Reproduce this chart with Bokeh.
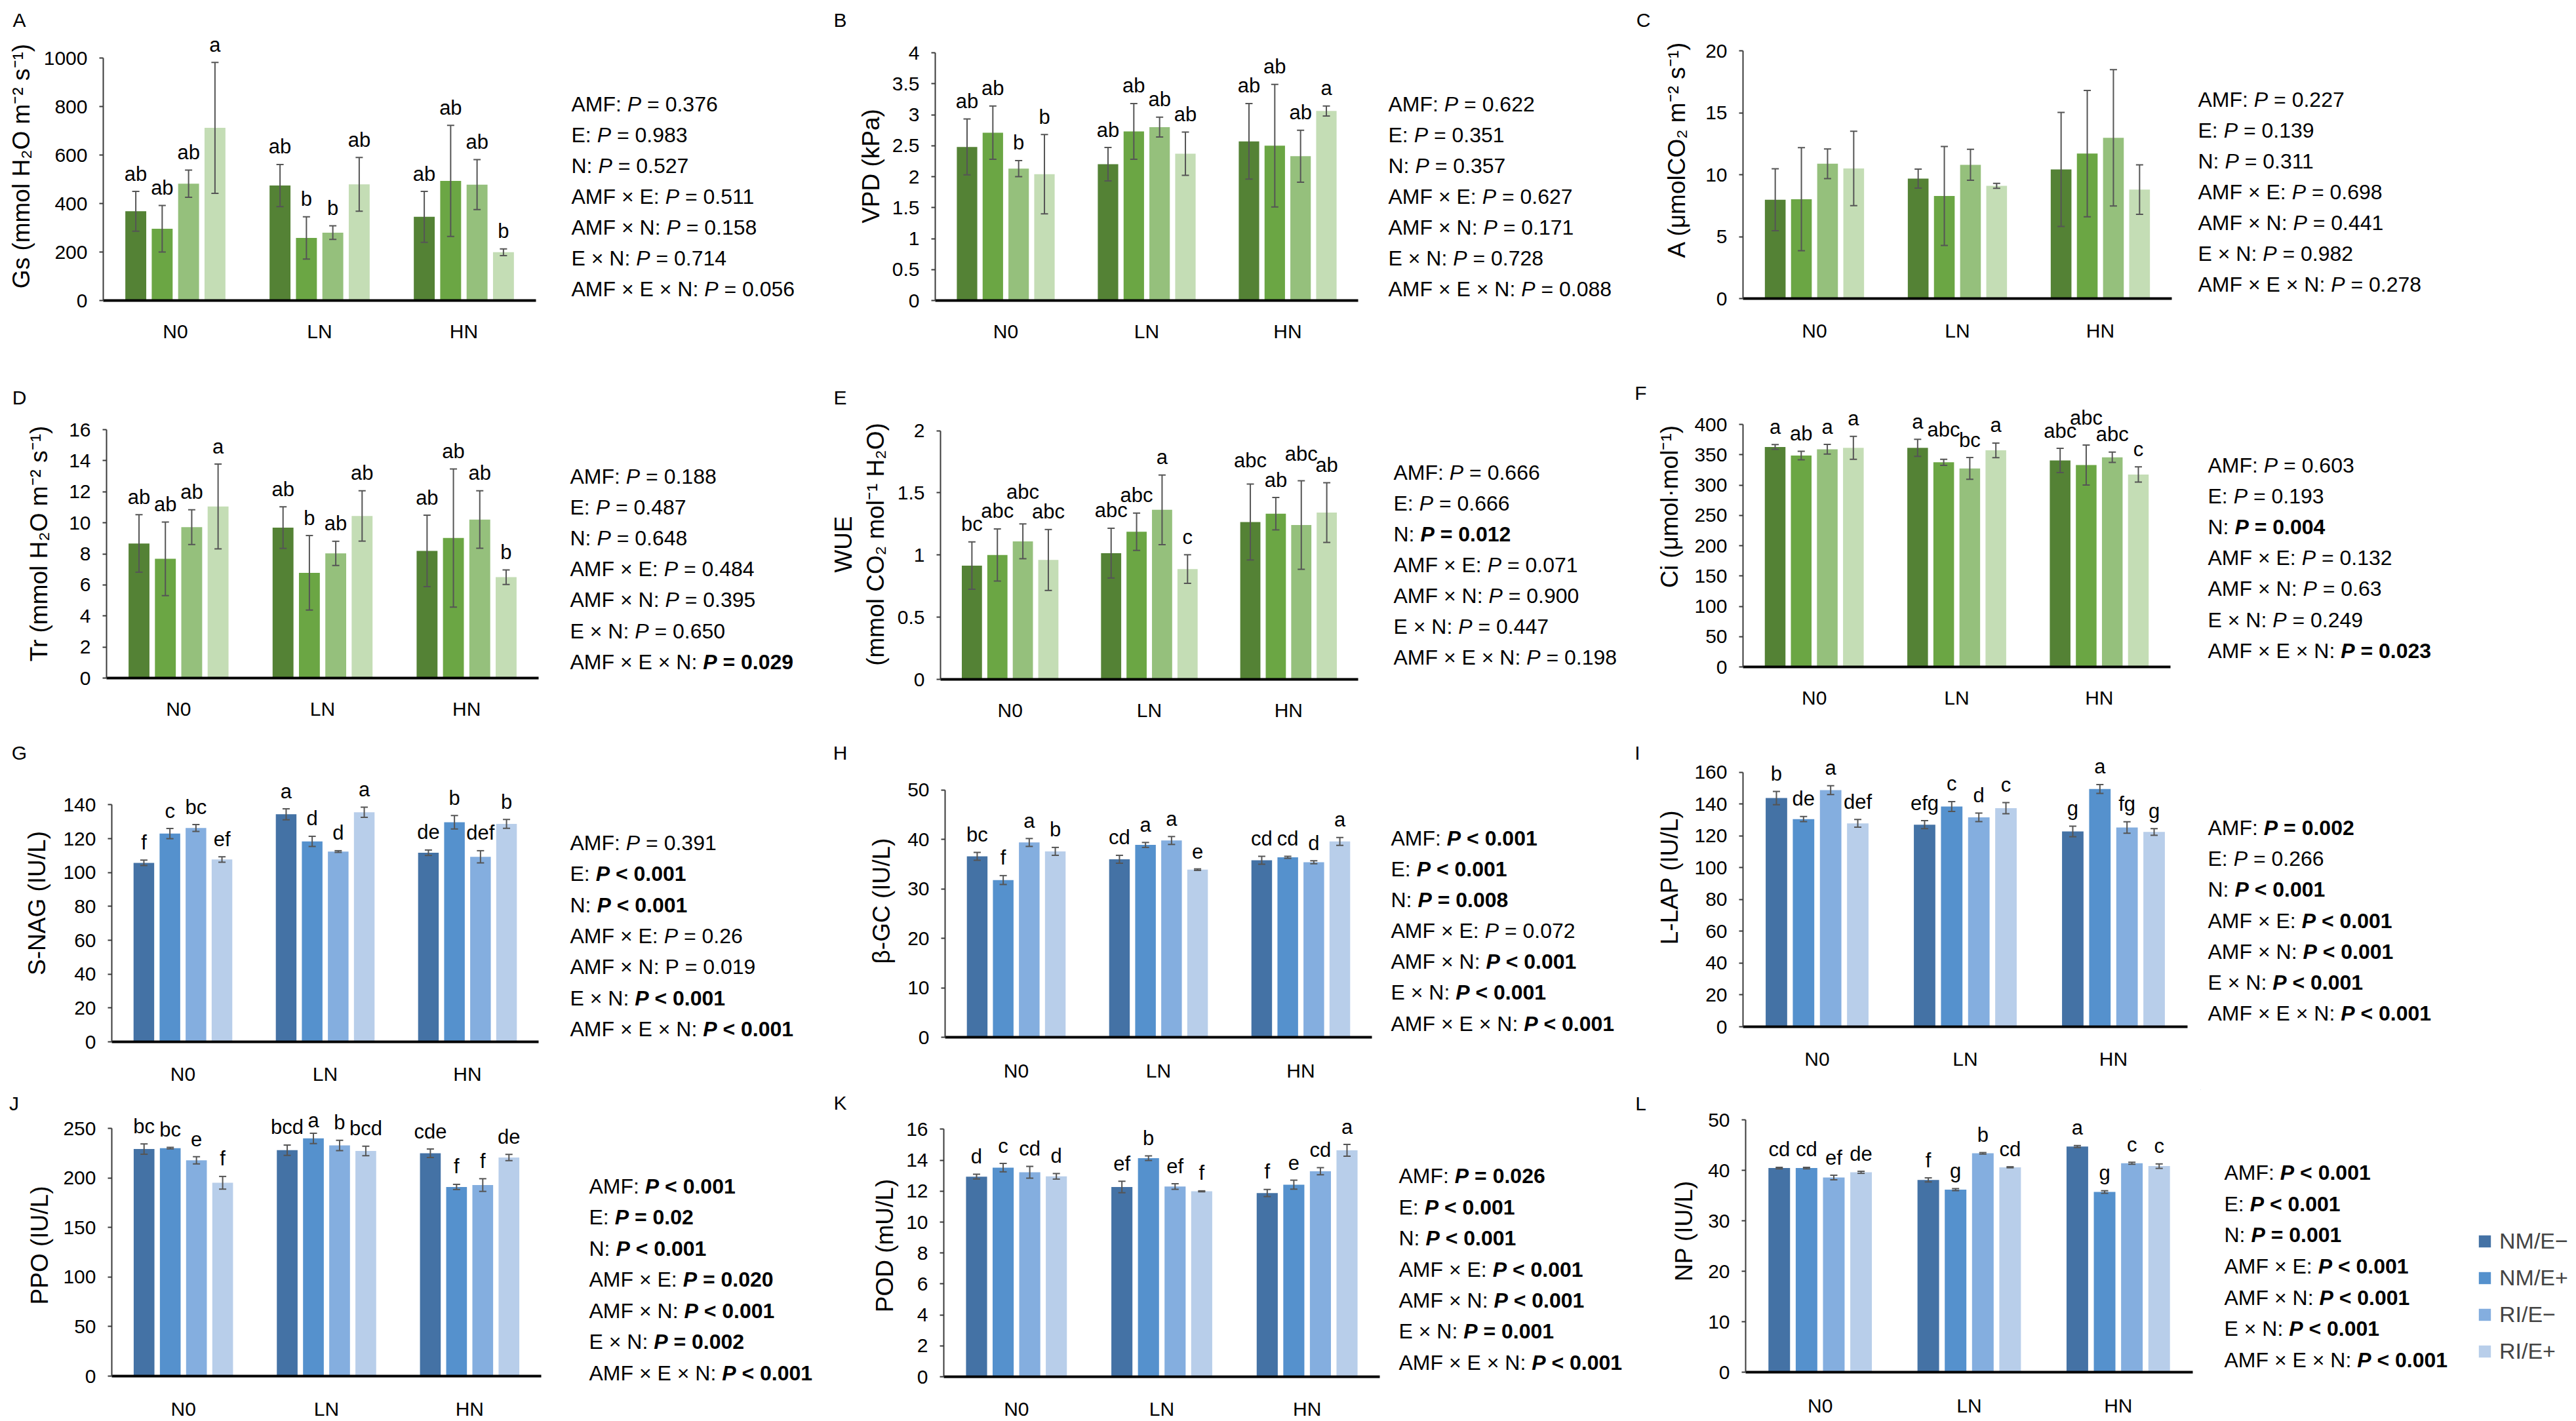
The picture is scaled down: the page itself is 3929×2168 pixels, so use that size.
from bokeh.plotting import figure
from bokeh.layouts import row, column
from bokeh.models import (ColumnDataSource, FactorRange, Range1d, FixedTicker,
                          NumeralTickFormatter, Legend, LegendItem)
from bokeh.transform import dodge
from bokeh.core.properties import value
from bokeh.embed import file_html
from bokeh.resources import INLINE

# ---------------- data ----------------
groups = ["N0", "LN", "HN"]
series = ["NM/E\u2212", "NM/E+", "RI/E\u2212", "RI/E+"]
effects = ["AMF", "E", "N", "AMF \u00d7 E", "AMF \u00d7 N", "E \u00d7 N", "AMF \u00d7 E \u00d7 N"]

# A  Gs
gs_mean = [[368, 296, 482, 712], [474, 258, 280, 479], [345, 493, 478, 199]]
gs_err = [[82, 96, 56, 270], [87, 87, 28, 111], [105, 229, 103, 14]]
gs_letters = [["ab", "ab", "ab", "a"], ["ab", "b", "b", "ab"], ["ab", "ab", "ab", "b"]]
gs_ticks = [0, 200, 400, 600, 800, 1000]
gs_p = ["= 0.376", "= 0.983", "= 0.527", "= 0.511", "= 0.158", "= 0.714", "= 0.056"]
gs_sig = ["n", "n", "n", "n", "n", "n", "n"]

# B  VPD
vpd_mean = [[2.48, 2.71, 2.13, 2.04], [2.20, 2.73, 2.80, 2.37], [2.57, 2.50, 2.33, 3.06]]
vpd_err = [[0.45, 0.43, 0.13, 0.64], [0.27, 0.45, 0.16, 0.35], [0.61, 0.99, 0.42, 0.08]]
vpd_letters = [["ab", "ab", "b", "b"], ["ab", "ab", "ab", "ab"], ["ab", "ab", "ab", "a"]]
vpd_ticks = [0, 0.5, 1, 1.5, 2, 2.5, 3, 3.5, 4]
vpd_p = ["= 0.622", "= 0.351", "= 0.357", "= 0.627", "= 0.171", "= 0.728", "= 0.088"]
vpd_sig = ["n", "n", "n", "n", "n", "n", "n"]

# C  A
a_mean = [[7.98, 8.02, 10.88, 10.5], [9.68, 8.28, 10.8, 9.1], [10.42, 11.7, 12.98, 8.8]]
a_err = [[2.5, 4.16, 1.2, 3.0], [0.77, 4.0, 1.25, 0.2], [4.6, 5.1, 5.5, 2.0]]
a_letters = None
a_ticks = [0, 5, 10, 15, 20]
a_p = ["= 0.227", "= 0.139", "= 0.311", "= 0.698", "= 0.441", "= 0.982", "= 0.278"]
a_sig = ["n", "n", "n", "n", "n", "n", "n"]

# D  Tr
tr_mean = [[8.67, 7.68, 9.72, 11.05], [9.69, 6.78, 8.03, 10.44], [8.19, 9.02, 10.21, 6.5]]
tr_err = [[1.85, 2.37, 1.12, 2.73], [1.34, 2.4, 0.78, 1.62], [2.3, 4.45, 1.85, 0.47]]
tr_letters = [["ab", "ab", "ab", "a"], ["ab", "b", "ab", "ab"], ["ab", "ab", "ab", "b"]]
tr_ticks = [0, 2, 4, 6, 8, 10, 12, 14, 16]
tr_p = ["= 0.188", "= 0.487", "= 0.648", "= 0.484", "= 0.395", "= 0.650", "= 0.029"]
tr_sig = ["n", "n", "n", "n", "n", "n", "b"]

# E  WUE
wue_mean = [[0.915, 1.0, 1.11, 0.96], [1.015, 1.187, 1.363, 0.887], [1.265, 1.332, 1.241, 1.341]]
wue_err = [[0.19, 0.21, 0.14, 0.245], [0.2, 0.15, 0.28, 0.115], [0.305, 0.13, 0.356, 0.24]]
wue_letters = [["bc", "abc", "abc", "abc"], ["abc", "abc", "a", "c"], ["abc", "ab", "abc", "ab"]]
wue_ticks = [0, 0.5, 1, 1.5, 2]
wue_p = ["= 0.666", "= 0.666", "= 0.012", "= 0.071", "= 0.900", "= 0.447", "= 0.198"]
wue_sig = ["n", "n", "b", "n", "n", "n", "n"]

# F  Ci
ci_mean = [[362.8, 348.7, 359.0, 361.3], [361.3, 337.5, 327.4, 357.2], [340.5, 333.0, 345.7, 317.4]]
ci_err = [[4, 7, 8, 19], [14, 5, 18, 12], [20, 33, 8.5, 12.6]]
ci_letters = [["a", "ab", "a", "a"], ["a", "abc", "bc", "a"], ["abc", "abc", "abc", "c"]]
ci_ticks = [0, 50, 100, 150, 200, 250, 300, 350, 400]
ci_p = ["= 0.603", "= 0.193", "= 0.004", "= 0.132", "= 0.63", "= 0.249", "= 0.023"]
ci_sig = ["n", "n", "b", "n", "n", "n", "b"]

# G  S-NAG
nag_mean = [[105.7, 123.0, 126.3, 107.7], [134.4, 118.4, 112.4, 135.6], [111.7, 129.7, 109.3, 128.7]]
nag_err = [[1.6, 3.0, 2.0, 1.6], [3.2, 3.0, 0.5, 3.0], [1.6, 4.0, 3.6, 2.6]]
nag_letters = [["f", "c", "bc", "ef"], ["a", "d", "d", "a"], ["de", "b", "def", "b"]]
nag_ticks = [0, 20, 40, 60, 80, 100, 120, 140]
nag_p = ["= 0.391", "< 0.001", "< 0.001", "= 0.26", "= 0.019", "< 0.001", "< 0.001"]
nag_sig = ["n", "b", "b", "n", "u", "b", "b"]

# H  beta-GC
gc_mean = [[36.6, 31.8, 39.4, 37.6], [36.0, 38.9, 39.8, 33.9], [35.8, 36.4, 35.4, 39.6]]
gc_err = [[0.8, 0.9, 0.8, 0.8], [0.8, 0.5, 0.8, 0.15], [0.8, 0.2, 0.3, 0.8]]
gc_letters = [["bc", "f", "a", "b"], ["cd", "a", "a", "e"], ["cd", "cd", "d", "a"]]
gc_ticks = [0, 10, 20, 30, 40, 50]
gc_p = ["< 0.001", "< 0.001", "= 0.008", "= 0.072", "< 0.001", "< 0.001", "< 0.001"]
gc_sig = ["b", "b", "b", "n", "b", "b", "b"]

# I  L-LAP
lap_mean = [[143.7, 130.5, 148.7, 127.8], [127.0, 138.4, 131.6, 137.3], [122.7, 149.4, 125.2, 122.4]]
lap_err = [[4.2, 1.6, 2.8, 2.4], [2.5, 3.1, 2.7, 3.5], [3.3, 2.8, 3.6, 2.1]]
lap_letters = [["b", "de", "a", "def"], ["efg", "c", "d", "c"], ["g", "a", "fg", "g"]]
lap_ticks = [0, 20, 40, 60, 80, 100, 120, 140, 160]
lap_p = ["= 0.002", "= 0.266", "< 0.001", "< 0.001", "< 0.001", "< 0.001", "< 0.001"]
lap_sig = ["b", "n", "b", "b", "b", "b", "b"]

# J  PPO
ppo_mean = [[229.3, 230.2, 217.9, 195.2], [228.1, 240.0, 232.9, 227.4], [225.0, 191.0, 192.9, 220.7]]
ppo_err = [[5.2, 0.8, 3.6, 6.4], [5.2, 5.2, 5.2, 4.8], [4.3, 2.6, 6.4, 3.1]]
ppo_letters = [["bc", "bc", "e", "f"], ["bcd", "a", "b", "bcd"], ["cde", "f", "f", "de"]]
ppo_ticks = [0, 50, 100, 150, 200, 250]
ppo_p = ["< 0.001", "= 0.02", "< 0.001", "= 0.020", "< 0.001", "= 0.002", "< 0.001"]
ppo_sig = ["b", "b", "b", "b", "b", "b", "b"]

# K  POD
pod_mean = [[12.94, 13.52, 13.22, 12.96], [12.27, 14.13, 12.30, 11.99], [11.88, 12.42, 13.29, 14.64]]
pod_err = [[0.15, 0.27, 0.38, 0.18], [0.37, 0.15, 0.18, 0.03], [0.23, 0.29, 0.23, 0.38]]
pod_letters = [["d", "c", "cd", "d"], ["ef", "b", "ef", "f"], ["f", "e", "cd", "a"]]
pod_ticks = [0, 2, 4, 6, 8, 10, 12, 14, 16]
pod_p = ["= 0.026", "< 0.001", "< 0.001", "< 0.001", "< 0.001", "= 0.001", "< 0.001"]
pod_sig = ["b", "b", "b", "b", "b", "b", "b"]

# L  NP
np_mean = [[40.45, 40.45, 38.57, 39.6], [38.1, 36.17, 43.37, 40.6], [44.7, 35.7, 41.4, 40.83]]
np_err = [[0.15, 0.15, 0.45, 0.2], [0.4, 0.2, 0.15, 0.1], [0.2, 0.25, 0.2, 0.45]]
np_letters = [["cd", "cd", "ef", "de"], ["f", "g", "b", "cd"], ["a", "g", "c", "c"]]
np_ticks = [0, 10, 20, 30, 40, 50]
np_p = ["< 0.001", "< 0.001", "= 0.001", "< 0.001", "< 0.001", "< 0.001", "< 0.001"]
np_sig = ["b", "b", "b", "b", "b", "b", "b"]

PANELS = [
    dict(key="A", ylabel="Gs (mmol H\u2082O m\u207b\u00b2 s\u207b\u00b9)", mean=gs_mean, err=gs_err, letters=gs_letters, ticks=gs_ticks, p=gs_p, sig=gs_sig, pal="g"),
    dict(key="B", ylabel="VPD (kPa)", mean=vpd_mean, err=vpd_err, letters=vpd_letters, ticks=vpd_ticks, p=vpd_p, sig=vpd_sig, pal="g"),
    dict(key="C", ylabel="A (\u03bcmolCO\u2082 m\u207b\u00b2 s\u207b\u00b9)", mean=a_mean, err=a_err, letters=a_letters, ticks=a_ticks, p=a_p, sig=a_sig, pal="g"),
    dict(key="D", ylabel="Tr (mmol H\u2082O m\u207b\u00b2 s\u207b\u00b9)", mean=tr_mean, err=tr_err, letters=tr_letters, ticks=tr_ticks, p=tr_p, sig=tr_sig, pal="g"),
    dict(key="E", ylabel="WUE\n(mmol CO\u2082 mol\u207b\u00b9 H\u2082O)", mean=wue_mean, err=wue_err, letters=wue_letters, ticks=wue_ticks, p=wue_p, sig=wue_sig, pal="g"),
    dict(key="F", ylabel="Ci (\u03bcmol\u00b7mol\u207b\u00b9)", mean=ci_mean, err=ci_err, letters=ci_letters, ticks=ci_ticks, p=ci_p, sig=ci_sig, pal="g"),
    dict(key="G", ylabel="S-NAG (IU/L)", mean=nag_mean, err=nag_err, letters=nag_letters, ticks=nag_ticks, p=nag_p, sig=nag_sig, pal="b"),
    dict(key="H", ylabel="\u03b2-GC (IU/L)", mean=gc_mean, err=gc_err, letters=gc_letters, ticks=gc_ticks, p=gc_p, sig=gc_sig, pal="b"),
    dict(key="I", ylabel="L-LAP (IU/L)", mean=lap_mean, err=lap_err, letters=lap_letters, ticks=lap_ticks, p=lap_p, sig=lap_sig, pal="b"),
    dict(key="J", ylabel="PPO (IU/L)", mean=ppo_mean, err=ppo_err, letters=ppo_letters, ticks=ppo_ticks, p=ppo_p, sig=ppo_sig, pal="b"),
    dict(key="K", ylabel="POD (mU/L)", mean=pod_mean, err=pod_err, letters=pod_letters, ticks=pod_ticks, p=pod_p, sig=pod_sig, pal="b"),
    dict(key="L", ylabel="NP (IU/L)", mean=np_mean, err=np_err, letters=np_letters, ticks=np_ticks, p=np_p, sig=np_sig, pal="b"),
]

# ---------------- style / geometry ----------------
FONT = "Liberation Sans"
GREENS = ["#548235", "#6BA644", "#95C07C", "#C4DDB5"]
BLUES = ["#4472A5", "#5591CD", "#84AEDF", "#B8CEEA"]
ERRC = "#555555"
OFFS = [-0.2745, -0.0915, 0.0915, 0.2745]
BAR_W = 0.145

col_x = [0, 1262, 2518]
col_w = [1262, 1256, 1411]
row_y = [0, 528, 1110, 1662]
row_h = [528, 582, 552, 506]
STRIP = [48, 96, 56, 38]      # letter strip above columns 1-2 (column 3 has none)
RPAD = 12

GEOM = {
    "A": dict(col=0, row=0, ax=157, xe=817, atop=88, base=458, tx=871, ty=158.5, tp=47, yl=33, lx=29, ly=30, xo=41),
    "B": dict(col=1, row=0, ax=1426, xe=2071, atop=80, base=458, tx=2117, ty=158.5, tp=47, yl=1329, lx=1281, ly=30, xo=41),
    "C": dict(col=2, row=0, ax=2658, xe=3312, atop=77, base=455, tx=3352, ty=151, tp=47, yl=2558, lx=2506, ly=30, xo=42),
    "D": dict(col=0, row=1, ax=162, xe=821, atop=655, base=1034, tx=869, ty=726, tp=47.2, yl=60, lx=29, ly=606, xo=41),
    "E": dict(col=1, row=1, ax=1431, xe=2071, atop=656, base=1035.5, tx=2125, ty=720, tp=47, yl=1311, lx=1281, ly=606, xo=41, nlines=2),
    "F": dict(col=2, row=1, ax=2658, xe=3310, atop=647, base=1017, tx=3367, ty=709, tp=47.2, yl=2548, lx=2502, ly=599, xo=41),
    "G": dict(col=0, row=2, ax=170, xe=821, atop=1227, base=1588.6, tx=869, ty=1285.5, tp=47.35, yl=58, lx=29, ly=1148, xo=42),
    "H": dict(col=1, row=2, ax=1441, xe=2092, atop=1204.6, base=1581.7, tx=2121, ty=1278.7, tp=47.05, yl=1345, lx=1281, ly=1148, xo=44),
    "I": dict(col=2, row=2, ax=2658, xe=3336, atop=1177, base=1565.5, tx=3367, ty=1262.5, tp=47.2, yl=2548, lx=2497, ly=1148, xo=42),
    "J": dict(col=0, row=3, ax=170, xe=825, atop=1721, base=2101.6, tx=898, ty=1809, tp=47.5, yl=62, lx=21, ly=1683, xo=43.5),
    "K": dict(col=1, row=3, ax=1439, xe=2104, atop=1722.4, base=2100.9, tx=2133, ty=1793.8, tp=47.4, yl=1350, lx=1281, ly=1681.5, xo=42),
    "L": dict(col=2, row=3, ax=2662, xe=3344, atop=1707.6, base=2092.6, tx=3392, ty=1788.3, tp=47.7, yl=2569, lx=2502, ly=1683, xo=45),
}
LIFT = {
    "E": [[0, 0, 22, 0], [0, 0, 0, 0], [9, 0, 14, 0]],
    "F": [[0, 0, 0, 0], [0, 18, 0, 0], [0, 14, 0, 0]],
    "J": [[0, 0, 0, 0], [0, -8, 0, 0], [0, 0, 0, 0]],
}
LEG = dict(x=3778, bottom=2081)

REG = {" ": 278, ":": 278, "=": 584, "<": 584, ".": 278, "\u00d7": 584,
       "A": 667, "M": 833, "F": 611, "E": 667, "N": 722, "P": 667}
BLD = {" ": 278, ":": 333, "=": 584, "<": 584, ".": 278, "\u00d7": 584,
       "A": 722, "M": 833, "F": 611, "E": 667, "N": 722, "P": 667}


def tw(s, size, bold=False):
    t = BLD if bold else REG
    return sum(t.get(ch, 556) for ch in s) * size / 1000.0


STAT_SIZE = 32
TICK_SIZE = 30
YLAB_SIZE = 37


def no_align(f):
    try:
        f.frame_align = False
    except Exception:
        pass
    return f


def blank_fig(w, h):
    f = figure(width=int(w), height=int(h), x_range=Range1d(0, w), y_range=Range1d(h, 0),
               x_axis_type=None, y_axis_type=None, output_backend="svg",
               toolbar_location=None, min_border=0)
    f.outline_line_color = None
    f.background_fill_color = "white"
    f.border_fill_color = "white"
    return no_align(f)


def make_panel(spec):
    k = spec["key"]
    g = GEOM[k]
    c, r = g["col"], g["row"]
    cx, ry, W, H = col_x[c], row_y[r], col_w[c], row_h[r]
    S = STRIP[r] if c < 2 else 0
    ch = H - S
    cw = int(round(g["xe"] - cx)) + RPAD
    L = int(round(g["ax"] - cx))
    B = int(round(H - (g["base"] - ry)))
    fb = ry + H - B
    ft = ry + S
    ticks = spec["ticks"]
    ttop = ticks[-1]
    ppu = (g["base"] - g["atop"]) / ttop
    y_end = (fb - ft) / ppu

    p = figure(width=cw, height=ch, x_range=FactorRange(factors=groups),
               y_range=Range1d(0, y_end), output_backend="svg",
               toolbar_location=None, min_border_left=L, min_border_right=RPAD,
               min_border_top=0, min_border_bottom=B)
    no_align(p)
    p.outline_line_color = None
    p.background_fill_color = "white"
    p.border_fill_color = "white"
    p.xgrid.visible = False
    p.ygrid.visible = False

    pal = GREENS if spec["pal"] == "g" else BLUES
    lift = LIFT.get(k, [[0] * 4 for _ in groups])
    for s in range(len(series)):
        means = [spec["mean"][gi][s] for gi in range(len(groups))]
        errs = [spec["err"][gi][s] for gi in range(len(groups))]
        src = ColumnDataSource(dict(
            group=groups, mean=means,
            upper=[m + e for m, e in zip(means, errs)],
            lower=[m - e for m, e in zip(means, errs)],
            letter=[spec["letters"][gi][s] if spec["letters"] else "" for gi in range(len(groups))],
            yoff=[-(27 + lift[gi][s]) for gi in range(len(groups))],
        ))
        xs = dodge("group", OFFS[s], range=p.x_range)
        p.vbar(x=xs, top="mean", width=BAR_W, source=src, fill_color=pal[s], line_color=None)
        p.segment(x0=xs, y0="lower", x1=xs, y1="upper", source=src, line_color=ERRC, line_width=2)
        p.scatter(x=xs, y="upper", source=src, marker="dash", size=11, line_color=ERRC, line_width=2)
        p.scatter(x=xs, y="lower", source=src, marker="dash", size=11, line_color=ERRC, line_width=2)
        if spec["letters"]:
            p.text(x=xs, y="upper", text="letter", source=src, text_font=value(FONT),
                   text_font_size=value("31px"), text_align="center", text_baseline="middle",
                   y_offset="yoff", text_color="black", level="overlay")

    # y axis
    ya = p.yaxis[0]
    ya.ticker = FixedTicker(ticks=ticks)
    ya.formatter = NumeralTickFormatter(format="0.[0]")
    ya.bounds = (0, ttop)
    ya.axis_line_color = "#3a3a3a"
    ya.axis_line_width = 2
    ya.major_tick_line_color = "#3a3a3a"
    ya.major_tick_line_width = 2
    ya.major_tick_out = 6
    ya.major_tick_in = 0
    ya.minor_tick_line_color = None
    ya.major_label_standoff = 18
    ya.major_label_text_font = FONT
    ya.major_label_text_font_size = "%dpx" % TICK_SIZE
    ya.major_label_text_color = "black"
    ya.axis_label = spec["ylabel"]
    ya.axis_label_text_font = FONT
    ya.axis_label_text_font_size = "%dpx" % YLAB_SIZE
    ya.axis_label_text_font_style = "normal"
    ya.axis_label_text_color = "black"
    tickw = max(tw("%g" % t, TICK_SIZE) for t in ticks)
    half = YLAB_SIZE * 1.2 * g.get("nlines", 1) / 2.0
    stand = L - 24 - tickw - ((g["yl"] - cx) + half)
    ya.axis_label_standoff = int(max(0, round(stand)))

    # x axis
    xa = p.xaxis[0]
    xa.axis_line_color = "black"
    xa.axis_line_width = 4
    xa.major_tick_line_color = None
    xa.minor_tick_line_color = None
    xa.major_label_standoff = int(round(g["xo"] - 16.5))
    xa.major_label_text_font = FONT
    xa.major_label_text_font_size = "%dpx" % TICK_SIZE
    xa.major_label_text_color = "black"

    # statistics text
    tx0 = cx + cw
    tfig = blank_fig(W - cw, ch)
    xs_, ys_, ts_, fs_ = [], [], [], []
    for i, eff in enumerate(effects):
        style = spec["sig"][i]
        bold = style == "b"
        yy = g["ty"] + i * g["tp"] - ft
        w1 = tw(eff + ": ", STAT_SIZE)
        wp = tw("P ", STAT_SIZE, bold)
        xs_ += [g["tx"] - tx0, g["tx"] - tx0 + w1, g["tx"] - tx0 + w1 + wp]
        ys_ += [yy, yy, yy]
        ts_ += [eff + ":", "P", spec["p"][i]]
        fs_ += ["normal",
                "bold italic" if bold else ("normal" if style == "u" else "italic"),
                "bold" if bold else "normal"]
    tfig.text(x="x", y="y", text="t", text_font_style="fs",
              source=ColumnDataSource(dict(x=xs_, y=ys_, t=ts_, fs=fs_)),
              text_font=value(FONT), text_font_size=value("%dpx" % STAT_SIZE),
              text_align="left", text_baseline="middle", text_color="black")

    if k == "L":
        swatch = []
        for s in range(len(series)):
            rr = tfig.vbar(x=[-500], top=[-500], bottom=[-600], width=1,
                           fill_color=pal[s], line_color=None)
            swatch.append(rr)
        items = [LegendItem(label=series[s], renderers=[swatch[s]]) for s in range(len(series))]
        leg = Legend(items=items,
                     location=(int(round(LEG["x"] - tx0)), int(round(ry + H - LEG["bottom"]))),
                     orientation="vertical", padding=0, margin=0, spacing=16,
                     glyph_width=23, glyph_height=23, label_standoff=11, label_height=40,
                     label_text_font=FONT, label_text_font_size="34px",
                     background_fill_alpha=0, border_line_alpha=0)
        tfig.add_layout(leg)

    return row(p, tfig)


charts = {spec["key"]: make_panel(spec) for spec in PANELS}

rows_out = []
for r in range(4):
    keys = [k for k, g in GEOM.items() if g["row"] == r]
    keys.sort(key=lambda kk: GEOM[kk]["col"])
    k0, k1, k2 = keys
    ry = row_y[r]
    S = STRIP[r]
    # strip for column 1
    s0 = blank_fig(col_w[0], S)
    s0.text(x=[GEOM[k0]["lx"] - col_x[0]], y=[GEOM[k0]["ly"] - ry], text=[k0],
            text_font=value(FONT), text_font_size=value("30px"), text_align="center",
            text_baseline="middle", text_color="black")
    # strip for column 2 also carries the letter of column 3
    s1 = blank_fig(col_w[1], S)
    s1.text(x=[GEOM[k1]["lx"] - col_x[1], GEOM[k2]["lx"] - col_x[1]],
            y=[GEOM[k1]["ly"] - ry, GEOM[k2]["ly"] - ry], text=[k1, k2],
            text_font=value(FONT), text_font_size=value("30px"), text_align="center",
            text_baseline="middle", text_color="black")
    rows_out.append(row(column(s0, charts[k0]), column(s1, charts[k1]), charts[k2]))

layout = column(*rows_out)

open("out.html", "w").write(file_html(layout, INLINE, title="AMF E N panels"))
